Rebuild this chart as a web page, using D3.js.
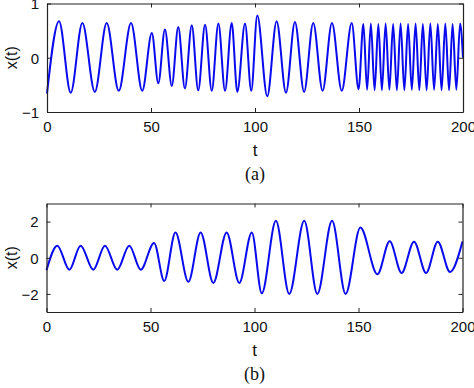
<!DOCTYPE html>
<html>
<head>
<meta charset="utf-8">
<script src="https://cdn.jsdelivr.net/npm/d3@7"></script>
<style>
  body { margin: 0; background: #fff; }
  svg { display: block; }
  text { font-family: 'Liberation Sans', Arial, Helvetica, sans-serif; fill: #111; }
  text.caption { font-family: 'Liberation Serif', 'Times New Roman', serif; }
</style>
</head>
<body>
<div id="chart"></div>
<script>
// panel (a): times and values of the peaks/troughs
var timesA = [0, 5.8, 11.4, 17, 23, 28.7, 34.5, 40.4, 45.8, 50.4, 53.5, 56.7, 60, 63.1, 66.3, 69.6,
  72.7, 76, 79.2, 82.4, 85.6, 88.8, 91.5, 95.2, 98.2, 101.1, 105.9, 110.4, 114.9, 119.2, 123.6,
  128, 132.5, 137, 141.7, 146.5, 149.8, 152.1, 153.9, 155.7, 157.5, 159.3, 161, 162.8, 164.6,
  166.4, 168.2, 170, 171.8, 173.6, 175.4, 177.2, 179, 180.7, 182.5, 184.3, 186.1, 187.9, 189.7,
  191.5, 193.3, 195, 196.8, 198.6, 200]
var valuesA = [-0.66, 0.675, -0.645, 0.64, -0.63, 0.64, -0.61, 0.64, -0.61, 0.455, -0.47, 0.52,
  -0.52, 0.565, -0.565, 0.6, -0.6, 0.61, -0.61, 0.63, -0.61, 0.64, -0.63, 0.63, -0.61, 0.78,
  -0.71, 0.675, -0.645, 0.66, -0.63, 0.64, -0.61, 0.64, -0.61, 0.64, -0.58, 0.62, -0.59, 0.63,
  -0.6, 0.62, -0.6, 0.63, -0.59, 0.62, -0.6, 0.63, -0.6, 0.62, -0.59, 0.63, -0.6, 0.62, -0.6,
  0.63, -0.59, 0.62, -0.6, 0.63, -0.6, 0.62, -0.59, 0.63, 0.0]

// panel (b)
var timesB = [0, 5.2, 11, 16.4, 22.5, 28.1, 34, 39.8, 45.3, 51.7, 56.6, 62, 68.2, 74.1, 80.2,
  86.6, 92.7, 98.7, 103.5, 110.3, 116.7, 123.9, 130.2, 137.3, 143.8, 150.9, 159.1, 165, 170.7,
  176.7, 182.5, 188.1, 194, 200]
var valuesB = [-0.69, 0.67, -0.66, 0.67, -0.66, 0.67, -0.66, 0.67, -0.66, 0.82, -1.28, 1.4,
  -1.33, 1.4, -1.39, 1.4, -1.39, 1.4, -1.97, 2.04, -2.0, 2.04, -2.0, 2.04, -2.0, 1.67, -0.91,
  0.91, -0.84, 0.89, -0.84, 0.89, -0.79, 0.9]

var xTicks = [0, 50, 100, 150, 200]
var yTicksA = [-1, 0, 1]
var yTicksB = [-2, 0, 2]

var width = 474
var height = 388

var svg = d3
  .select('#chart')
  .append('svg')
  .attr('width', width)
  .attr('height', height)

function panel(opts) {
  var x = d3.scaleLinear().domain([0, 200]).range([opts.left, opts.right])
  var y = d3.scaleLinear().domain(opts.yDomain).range([opts.bottom, opts.top])

  var g = svg.append('g')

  var data = opts.times.map(function(t, i) {
    return { t: t, v: opts.values[i] }
  })

  var line = d3
    .line()
    .x(d => x(d.t))
    .y(d => y(d.v))
    .curve(d3.curveMonotoneX)

  g.append('path')
    .datum(data)
    .attr('d', line)
    .attr('fill', 'none')
    .attr('stroke', '#0a0aee')
    .attr('stroke-width', 2)
    .attr('stroke-linejoin', 'round')

  // axes on all four sides, ticks pointing inward (matlab style)
  var fmt = d3.format('d')
  var bottom = g.append('g')
    .attr('transform', 'translate(0,' + opts.bottom + ')')
    .call(d3.axisBottom(x).tickValues(xTicks).tickFormat(fmt).tickSizeInner(-4).tickSizeOuter(0).tickPadding(9))
  var top = g.append('g')
    .attr('transform', 'translate(0,' + opts.top + ')')
    .call(d3.axisTop(x).tickValues(xTicks).tickSizeInner(-4).tickSizeOuter(0).tickFormat(''))
  var left = g.append('g')
    .attr('transform', 'translate(' + opts.left + ',0)')
    .call(d3.axisLeft(y).tickValues(opts.yTicks).tickFormat(fmt).tickSizeInner(-4).tickSizeOuter(0).tickPadding(8))
  var right = g.append('g')
    .attr('transform', 'translate(' + opts.right + ',0)')
    .call(d3.axisRight(y).tickValues(opts.yTicks).tickSizeInner(-4).tickSizeOuter(0).tickFormat(''))

  ;[bottom, top, left, right].forEach(function(a) {
    a.attr('font-family', null)
    a.select('.domain').attr('stroke', '#222').attr('stroke-width', 1.2)
    a.selectAll('.tick line').attr('stroke', '#222')
    a.selectAll('.tick text').attr('font-size', 15).attr('fill', '#111')
  })
  left.selectAll('.tick text').attr('dy', '0.36em')

  g.append('text')
    .attr('transform', 'translate(17,' + (opts.top + opts.bottom) / 2 + ') rotate(-90)')
    .attr('text-anchor', 'middle')
    .attr('font-size', 16)
    .text('x(t)')

  g.append('text')
    .attr('x', (opts.left + opts.right) / 2)
    .attr('y', opts.bottom + 44)
    .attr('text-anchor', 'middle')
    .attr('font-size', 17)
    .text('t')

  g.append('text')
    .attr('class', 'caption')
    .attr('x', (opts.left + opts.right) / 2)
    .attr('y', opts.bottom + 68)
    .attr('text-anchor', 'middle')
    .attr('font-size', 18)
    .text(opts.caption)
}

panel({
  left: 47, right: 463, top: 3.5, bottom: 112,
  yDomain: [-1, 1], yTicks: yTicksA,
  times: timesA, values: valuesA, caption: '(a)'
})

panel({
  left: 46.5, right: 462.5, top: 203.5, bottom: 312,
  yDomain: [-3, 3], yTicks: yTicksB,
  times: timesB, values: valuesB, caption: '(b)'
})
</script>
</body>
</html>
